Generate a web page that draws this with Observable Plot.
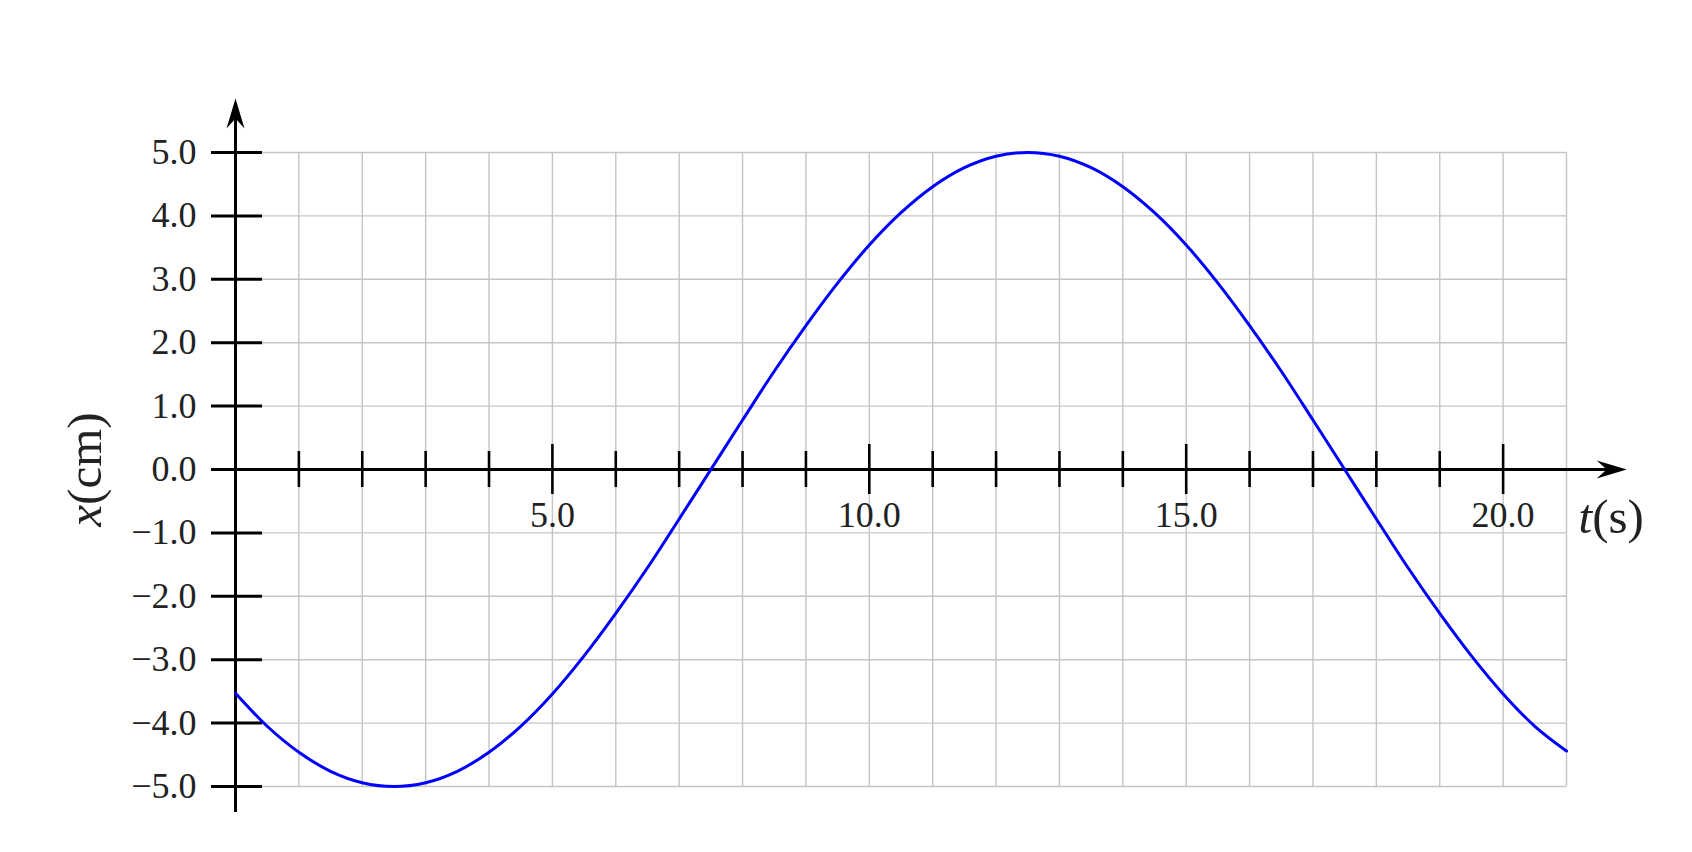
<!DOCTYPE html>
<html>
<head>
<meta charset="utf-8">
<script src="https://cdn.jsdelivr.net/npm/d3@7"></script>
<script src="https://cdn.jsdelivr.net/npm/@observablehq/plot@0.6"></script>
<style>
  html, body { margin: 0; padding: 0; background: #fff; }
</style>
</head>
<body>
<div id="chart"></div>
<script>
// ---- data ----
const tValues = [0, 0.5, 1, 1.5, 2, 2.5, 3, 3.5, 4, 4.5, 5, 5.5, 6, 6.5, 7, 7.5, 8, 8.5, 9, 9.5, 10,
  10.5, 11, 11.5, 12, 12.5, 13, 13.5, 14, 14.5, 15, 15.5, 16, 16.5, 17, 17.5, 18, 18.5, 19, 19.5, 20, 20.5, 21];
const xValues = [-3.53, -4.05, -4.46, -4.76, -4.94, -5.00, -4.94, -4.76, -4.46, -4.05, -3.54, -2.94, -2.27, -1.55, -0.78, 0.00,
  0.78, 1.55, 2.27, 2.94, 3.54, 4.05, 4.46, 4.76, 4.94, 5.00, 4.94, 4.76, 4.46, 4.05, 3.54, 2.94, 2.27, 1.55, 0.78, 0.00,
  -0.78, -1.55, -2.27, -2.94, -3.54, -4.05, -4.44];

const tDomain = [0, 21];
const xDomain = [-5, 5];

const yTickValues = [-5, -4, -3, -2, -1, 0, 1, 2, 3, 4, 5];
const yTickLabels = ["−5.0", "−4.0", "−3.0", "−2.0", "−1.0", "0.0", "1.0", "2.0", "3.0", "4.0", "5.0"];
const xMinorTicks = [1, 2, 3, 4, 6, 7, 8, 9, 11, 12, 13, 14, 16, 17, 18, 19];
const xMajorTicks = [5, 10, 15, 20];
const xTickLabels = ["5.0", "10.0", "15.0", "20.0"];
const tGrid = [1, 2, 3, 4, 5, 6, 7, 8, 9, 10, 11, 12, 13, 14, 15, 16, 17, 18, 19, 20, 21];
const xGrid = [-5, -4, -3, -2, -1, 0, 1, 2, 3, 4, 5];

// axis extents (arrow tips) in data units
const tAxisTip = 21.95;
const tAxisLineEnd = 21.8;
const xAxisTip = 5.85;
const xAxisLineEnd = 5.7;
const xAxisBottom = -5.41;

const tLabelVar = "t", tLabelUnit = "(s)";
const xLabelVar = "x", xLabelUnit = "(cm)";

// ---- build ----
const data = tValues.map((t, i) => ({t, x: xValues[i]}));

const arrowRight = {
  draw(ctx) {
    ctx.moveTo(0, 0); ctx.lineTo(-30, -9); ctx.lineTo(-20, 0); ctx.lineTo(-30, 9); ctx.closePath();
  }
};
const arrowUp = {
  draw(ctx) {
    ctx.moveTo(0, 0); ctx.lineTo(-9, 30); ctx.lineTo(0, 20); ctx.lineTo(9, 30); ctx.closePath();
  }
};

const gridStyle = {stroke: "#c4c4c4", strokeWidth: 1.4};
const axisColor = "#000";
const textColor = "#222";

const chart = Plot.plot({
  width: 1692,
  height: 852,
  marginLeft: 235,
  marginRight: 126,
  marginTop: 152,
  marginBottom: 66,
  style: {background: "#fff", fontFamily: "'Liberation Serif', 'DejaVu Serif', serif"},
  x: {domain: tDomain, axis: null},
  y: {domain: xDomain, axis: null},
  marks: [
    // grid
    Plot.ruleX(tGrid, {x: d => d, y1: () => xDomain[0], y2: () => xDomain[1], ...gridStyle}),
    Plot.ruleY(xGrid, {y: d => d, x1: () => tDomain[0], x2: () => tDomain[1], ...gridStyle}),
    // horizontal axis
    Plot.ruleY([0], {y: d => d, x1: () => 0, x2: () => tAxisLineEnd, stroke: axisColor, strokeWidth: 3}),
    // vertical axis
    Plot.ruleX([0], {x: d => d, y1: () => xAxisBottom, y2: () => xAxisLineEnd, stroke: axisColor, strokeWidth: 3}),
    // y ticks
    Plot.ruleY(yTickValues, {y: d => d, x1: () => 0, x2: () => 0, insetLeft: -24, insetRight: -27,
      stroke: axisColor, strokeWidth: 3}),
    // x minor ticks
    Plot.ruleX(xMinorTicks, {x: d => d, y1: () => 0, y2: () => 0, insetTop: -18, insetBottom: -18,
      stroke: axisColor, strokeWidth: 2.6}),
    // x major ticks
    Plot.ruleX(xMajorTicks, {x: d => d, y1: () => 0, y2: () => 0, insetTop: -25, insetBottom: -25,
      stroke: axisColor, strokeWidth: 2.6}),
    // arrowheads
    Plot.dot([0], {x: () => tAxisTip, y: () => 0, symbol: arrowRight, fill: axisColor, stroke: "none"}),
    Plot.dot([0], {x: () => 0, y: () => xAxisTip, symbol: arrowUp, fill: axisColor, stroke: "none"}),
    // tick labels
    Plot.text(yTickValues, {x: () => 0, y: d => d, text: (d, i) => yTickLabels[i], textAnchor: "end",
      dx: -39, fontSize: 36, fill: textColor}),
    Plot.text(xMajorTicks, {x: d => d, y: () => 0, text: (d, i) => xTickLabels[i], dy: 46,
      fontSize: 36, fill: textColor}),
    // axis titles
    Plot.text([tLabelVar + tLabelUnit], {x: () => tDomain[1], y: () => 0, text: d => d, textAnchor: "start",
      dx: 12, dy: 48, fontSize: 49, fill: textColor}),
    Plot.text([xLabelVar + xLabelUnit], {x: () => 0, y: () => 0, text: d => d, rotate: -90,
      dx: -150, fontSize: 49, fill: textColor}),
    // curve
    Plot.line(data, {x: "t", y: "x", stroke: "#0000ff", strokeWidth: 3, curve: "catmull-rom"})
  ]
});

// italic variable letters in the axis titles
d3.select(chart).selectAll("text").each(function() {
  const el = d3.select(this);
  const txt = this.textContent;
  const pairs = [[tLabelVar, tLabelUnit], [xLabelVar, xLabelUnit]];
  for (const [v, u] of pairs) {
    if (txt === v + u) {
      el.text(null);
      el.append("tspan").attr("font-style", "italic").text(v);
      el.append("tspan").text(u);
    }
  }
});

document.getElementById("chart").appendChild(chart);
</script>
</body>
</html>
